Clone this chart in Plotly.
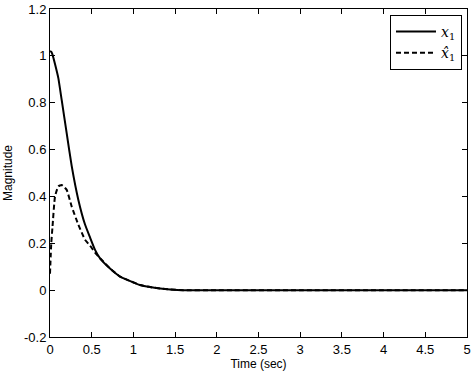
import plotly.graph_objects as go

time = [0, 0.015, 0.03, 0.06, 0.1, 0.14, 0.2, 0.26, 0.34, 0.42, 0.48, 0.54, 0.6, 0.74, 0.84,
        0.94, 1.08, 1.2, 1.32, 1.44, 1.6, 2, 3, 4, 5]
x1 = [1.02, 1.018, 1.005, 0.965, 0.905, 0.812, 0.67, 0.53, 0.385, 0.28, 0.225, 0.172, 0.136, 0.086, 0.058,
      0.042, 0.022, 0.013, 0.007, 0.003, 0.0, 0, 0, 0, 0]
x1_hat = [0.07, 0.2, 0.27, 0.40, 0.443, 0.449, 0.428, 0.357, 0.279, 0.215, 0.19, 0.16, 0.136, 0.086, 0.058,
          0.042, 0.022, 0.013, 0.007, 0.003, 0.0, 0, 0, 0, 0]

xticks = [0, 0.5, 1, 1.5, 2, 2.5, 3, 3.5, 4, 4.5, 5]
xticklabels = ["0", "0.5", "1", "1.5", "2", "2.5", "3", "3.5", "4", "4.5", "5"]
yticks = [-0.2, 0, 0.2, 0.4, 0.6, 0.8, 1, 1.2]
yticklabels = ["-0.2", "0", "0.2", "0.4", "0.6", "0.8", "1", "1.2"]

fig = go.Figure()
fig.add_trace(go.Scatter(x=time, y=x1, mode="lines", name="<i>x</i><sub>1</sub>",
                         line=dict(color="black", width=2, shape="spline", smoothing=0.4)))
fig.add_trace(go.Scatter(x=time, y=x1_hat, mode="lines", name="<i>x̂</i><sub>1</sub>",
                         line=dict(color="black", width=2, dash="5px,3px", shape="spline", smoothing=0.4)))

font_ax = dict(family="Liberation Sans, Arial", size=13, color="black")
axis_common = dict(showgrid=False, zeroline=False, showline=True, linecolor="black", linewidth=1,
                   mirror="ticks", ticks="inside", ticklen=5, tickcolor="black",
                   tickfont=font_ax, automargin=False, ticklabeloverflow="allow")
fig.update_xaxes(range=[0, 5], tickvals=xticks, ticktext=xticklabels,
                 title=dict(text="Time (sec)", font=dict(family="Liberation Sans, Arial", size=12, color="black"), standoff=4),
                 **axis_common)
fig.update_yaxes(range=[-0.2, 1.2], tickvals=yticks, ticktext=yticklabels,
                 title=dict(text="Magnitude", font=dict(family="Liberation Sans, Arial", size=12, color="black"), standoff=8),
                 **axis_common)
fig.update_layout(
    width=474, height=374,
    margin=dict(l=50, r=7, t=9, b=37),
    plot_bgcolor="white", paper_bgcolor="white",
    legend=dict(x=0.988, y=0.982, xanchor="right", yanchor="top",
                bordercolor="black", borderwidth=1, bgcolor="white",
                font=dict(family="DejaVu Serif, Liberation Serif", size=14, color="black"),
                tracegroupgap=0, itemwidth=40),
    showlegend=True,
)
fig.write_html("out.html", config={"displayModeBar": False},
               post_script="document.body.style.margin='0';document.body.style.overflow='hidden';")
